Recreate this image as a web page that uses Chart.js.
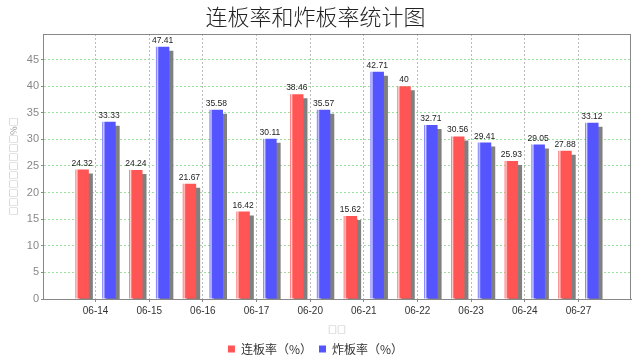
<!DOCTYPE html>
<html><head><meta charset="utf-8">
<script src="https://cdn.jsdelivr.net/npm/chart.js@4.4.1/dist/chart.umd.min.js"></script>
<style>html,body{margin:0;padding:0;background:#fff}canvas{display:block}</style>
</head><body>
<canvas id="c" width="640" height="360"></canvas>
<script>
const chartTitle = '连板率和炸板率统计图';
const categories = ['06-14','06-15','06-16','06-17','06-20','06-21','06-22','06-23','06-24','06-27'];
const lianbanRate = [24.32, 24.24, 21.67, 16.42, 38.46, 15.62, 40, 30.56, 25.93, 27.88];
const zhabanRate  = [33.33, 47.41, 35.58, 30.11, 35.57, 42.71, 32.71, 29.41, 29.05, 33.12];
const seriesNames = ['连板率（%）', '炸板率（%）'];
const yAxisTitle = '□□□□□□□□□%□';
const xAxisTitle = '□□';
const yMax = 49.8;

const seriesColors = ['#ff5555', '#5555ff'];
const seriesLight  = ['#ffd6d6', '#d6d6ff'];

Chart.defaults.font.family = '"Liberation Sans", sans-serif';

const barStyle = {
  id: 'barStyle',
  beforeDatasetsDraw(chart) {
    const ctx = chart.ctx, a = chart.chartArea;
    ctx.save();
    ctx.strokeStyle = '#888';
    ctx.lineWidth = 1;
    ctx.beginPath();
    ctx.moveTo(a.left, Math.round(a.top) + 0.5);
    ctx.lineTo(a.right, Math.round(a.top) + 0.5);
    ctx.moveTo(Math.round(a.right) - 0.5, a.top);
    ctx.lineTo(Math.round(a.right) - 0.5, a.bottom);
    ctx.stroke();
    ctx.restore();
    chart.data.datasets.forEach((ds, di) => {
      const meta = chart.getDatasetMeta(di);
      meta.data.forEach(el => {
        const x0 = el.x - el.width / 2, x1 = el.x + el.width / 2;
        const g = ctx.createLinearGradient(x0, 0, x1, 0);
        g.addColorStop(0, seriesColors[di]);
        g.addColorStop(0.1, seriesLight[di]);
        g.addColorStop(0.22, seriesColors[di]);
        g.addColorStop(1, seriesColors[di]);
        el.options = Object.assign({}, el.options, { backgroundColor: g });
      });
    });
    ctx.save();
    ctx.shadowColor = 'rgb(128,128,128)';
    ctx.shadowOffsetX = 4;
    ctx.shadowOffsetY = 4;
    ctx.shadowBlur = 0;
  },
  afterDatasetsDraw(chart) {
    const ctx = chart.ctx;
    ctx.restore();
    ctx.save();
    ctx.font = '8.5px "Liberation Sans"';
    ctx.fillStyle = '#222';
    ctx.textAlign = 'center';
    ctx.textBaseline = 'bottom';
    chart.data.datasets.forEach((ds, di) => {
      const meta = chart.getDatasetMeta(di);
      meta.data.forEach((el, i) => {
        ctx.fillText(String(ds.data[i].y), el.x, el.y - 2);
      });
    });
    ctx.restore();
  }
};

new Chart(document.getElementById('c'), {
  type: 'bar',
  data: {
    datasets: [
      { label: seriesNames[0], data: categories.map((c, i) => ({ x: i, y: lianbanRate[i] })),
        backgroundColor: seriesColors[0], borderWidth: 0, clip: 0 },
      { label: seriesNames[1], data: categories.map((c, i) => ({ x: i, y: zhabanRate[i] })),
        backgroundColor: seriesColors[1], borderWidth: 0, clip: 0 }
    ]
  },
  options: {
    responsive: false,
    animation: false,
    layout: { padding: { left: 0, right: 9, top: 0, bottom: -5 } },
    datasets: { bar: { categoryPercentage: 1.0, barPercentage: 0.5 } },
    plugins: {
      title: { display: true, text: chartTitle, color: '#222',
        font: { family: '"Noto Sans CJK SC"', size: 22, weight: 300 },
        padding: { top: 3, bottom: 4.6 } },
      legend: { position: 'bottom',
        labels: { boxWidth: 7, boxHeight: 7, padding: 7, color: '#333',
          font: { family: '"Noto Sans CJK SC"', size: 12 },
          generateLabels: (chart) => chart.data.datasets.map((ds, i) => ({
            text: ds.label, fillStyle: seriesColors[i], strokeStyle: seriesColors[i],
            lineWidth: 0, fontColor: '#333', datasetIndex: i, hidden: false })) } },
      tooltip: { enabled: false }
    },
    scales: {
      x: { type: 'linear', min: -0.98, max: 9.98, offset: false,
        ticks: { stepSize: 1, includeBounds: false, autoSkip: false, maxRotation: 0, minRotation: 0,
          padding: 3, color: '#333', font: { size: 10 },
          callback: v => (categories[v] !== undefined ? categories[v] : '') },
        grid: { offset: false, color: '#bbbbbb', lineWidth: 1, drawTicks: true, tickLength: 3, tickColor: '#888' },
        border: { display: true, color: '#888', width: 1, dash: [2, 2] },
        title: { display: true, text: xAxisTitle, color: '#999',
          font: { family: '"Noto Sans CJK SC"', size: 9 }, padding: { top: 0, bottom: 1 } },
        afterFit: s => { s.height = 37; } },
      y: { min: 0, max: yMax,
        ticks: { stepSize: 5, includeBounds: false, padding: 2, color: '#888', font: { size: 11 } },
        grid: { color: '#9ae29a', lineWidth: 1, tickLength: 2, tickColor: '#888' },
        border: { display: true, color: '#888', width: 1, dash: [2, 2] },
        title: { display: true, text: yAxisTitle, color: '#999',
          font: { family: '"Noto Sans CJK SC"', size: 9 }, padding: { top: 8, bottom: 0 } },
        afterFit: s => { s.width = 43; } }
    }
  },
  plugins: [barStyle]
});
</script>
</body></html>
